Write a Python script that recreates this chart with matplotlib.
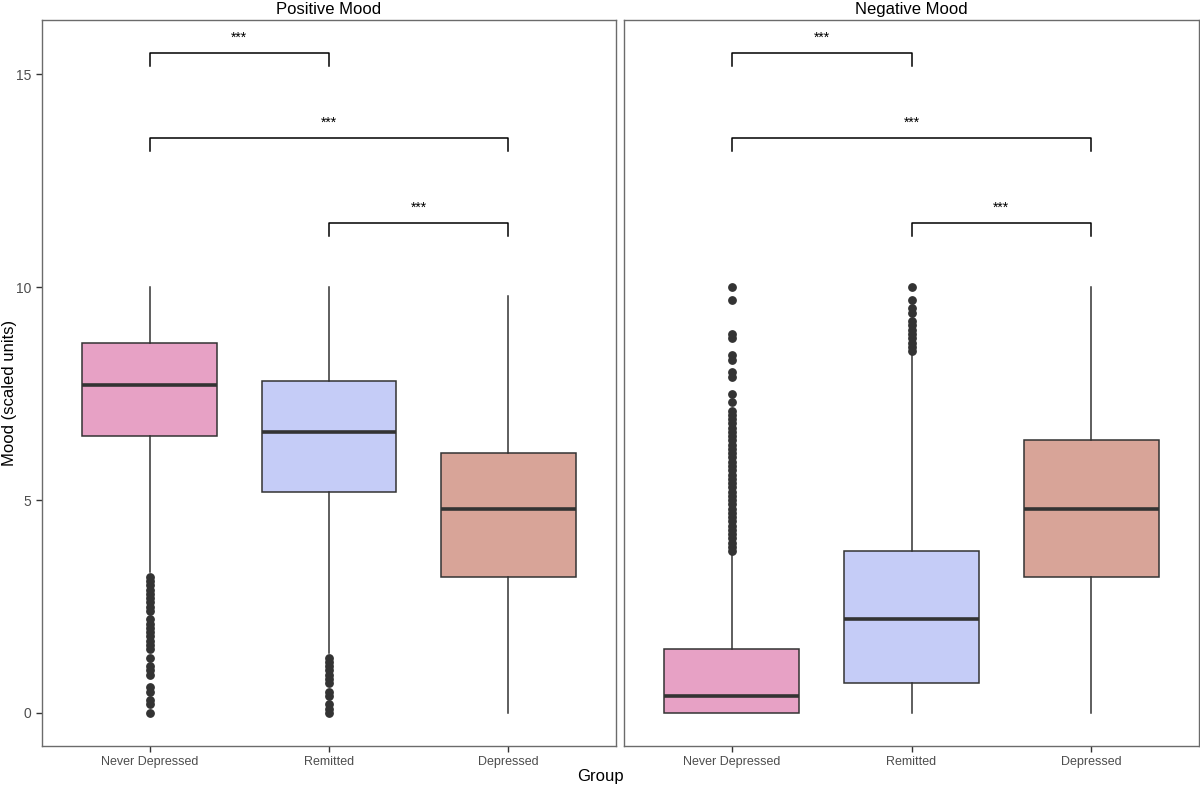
import numpy as np
import matplotlib.pyplot as plt

plt.rcParams['font.family'] = ['Liberation Sans', 'DejaVu Sans']

groups = ['Never Depressed', 'Remitted', 'Depressed']
colors = ['#E7A1C5', '#C5CCF7', '#D8A498']

# box stats: (low whisker, q1, median, q3, high whisker)
pos_stats = [(3.3, 6.5, 7.7, 8.7, 10.0),
             (1.4, 5.2, 6.6, 7.8, 10.0),
             (0.0, 3.2, 4.8, 6.1, 9.8)]
neg_stats = [(0.0, 0.0, 0.4, 1.5, 3.7),
             (0.0, 0.7, 2.2, 3.8, 8.4),
             (0.0, 3.2, 4.8, 6.4, 10.0)]

pos_fliers = [
    [3.2, 3.1, 3.0, 2.9, 2.8, 2.7, 2.6, 2.5, 2.4, 2.2, 2.1, 2.0, 1.9, 1.8,
     1.7, 1.6, 1.5, 1.3, 1.1, 1.0, 0.9, 0.6, 0.5, 0.3, 0.2, 0.0],
    [1.3, 1.2, 1.1, 1.0, 0.9, 0.8, 0.7, 0.5, 0.4, 0.2, 0.1, 0.0],
    [],
]
neg_fliers = [
    [10.0, 9.7, 8.9, 8.8, 8.4, 8.3, 8.0, 7.9, 7.5, 7.3]
    + [round(v, 1) for v in np.arange(3.8, 7.15, 0.1)],
    [10.0, 9.7, 9.5, 9.4, 9.2, 9.1, 9.0, 8.9, 8.8, 8.7, 8.6, 8.5],
    [],
]

# significance brackets: (from group, to group, height)
brackets = [(0, 1, 15.5), (0, 2, 13.5), (1, 2, 11.5)]
labels = ['***', '***', '***']

panels = [('Positive Mood', pos_stats, pos_fliers),
          ('Negative Mood', neg_stats, neg_fliers)]

fig = plt.figure(figsize=(12, 7.86), dpi=100)
ax_left = fig.add_axes([0.035, 0.0509, 0.4783, 0.9237])
ax_right = fig.add_axes([0.52, 0.0509, 0.4792, 0.9237])

for ax, (title, stats, fliers) in zip([ax_left, ax_right], panels):
    bstats = []
    for s, f in zip(stats, fliers):
        bstats.append(dict(whislo=s[0], q1=s[1], med=s[2], q3=s[3],
                           whishi=s[4], fliers=f))
    bp = ax.bxp(bstats, positions=[1, 2, 3], widths=0.75, patch_artist=True,
                showcaps=False,
                boxprops=dict(edgecolor='#333333', linewidth=1.1),
                medianprops=dict(color='#333333', linewidth=2.6),
                whiskerprops=dict(color='#333333', linewidth=1.1),
                flierprops=dict(marker='o', markersize=5.3,
                                markerfacecolor='#333333',
                                markeredgecolor='#333333'))
    for patch, c in zip(bp['boxes'], colors):
        patch.set_facecolor(c)

    for (a, b, h), lab in zip(brackets, labels):
        x1, x2 = a + 1, b + 1
        ax.plot([x1, x1, x2, x2], [h - 0.3, h, h, h - 0.3],
                color='black', linewidth=1.1)
        ax.text((x1 + x2) / 2, h + 0.2, lab, ha='center', va='bottom',
                fontsize=10)

    ax.set_xlim(0.4, 3.6)
    ax.set_ylim(-0.775, 16.275)
    ax.set_xticks([1, 2, 3])
    ax.set_xticklabels(groups)
    ax.set_title(title, fontsize=12, pad=4)
    for sp in ax.spines.values():
        sp.set_color('#6b6b6b')
        sp.set_linewidth(1.0)
    ax.tick_params(axis='both', colors='#333333', labelcolor='#4D4D4D',
                   labelsize=9, length=4, width=1)

ax_left.set_yticks([0, 5, 10, 15])
ax_left.tick_params(axis='y', labelsize=10)
ax_right.set_yticks([])
fig.text(0.002, 0.5, 'Mood (scaled units)', rotation=90, ha='left',
         va='center', fontsize=12)
fig.text(0.5, 0.003, 'Group', ha='center', va='bottom', fontsize=12)

fig.savefig('out.png', dpi=100)
